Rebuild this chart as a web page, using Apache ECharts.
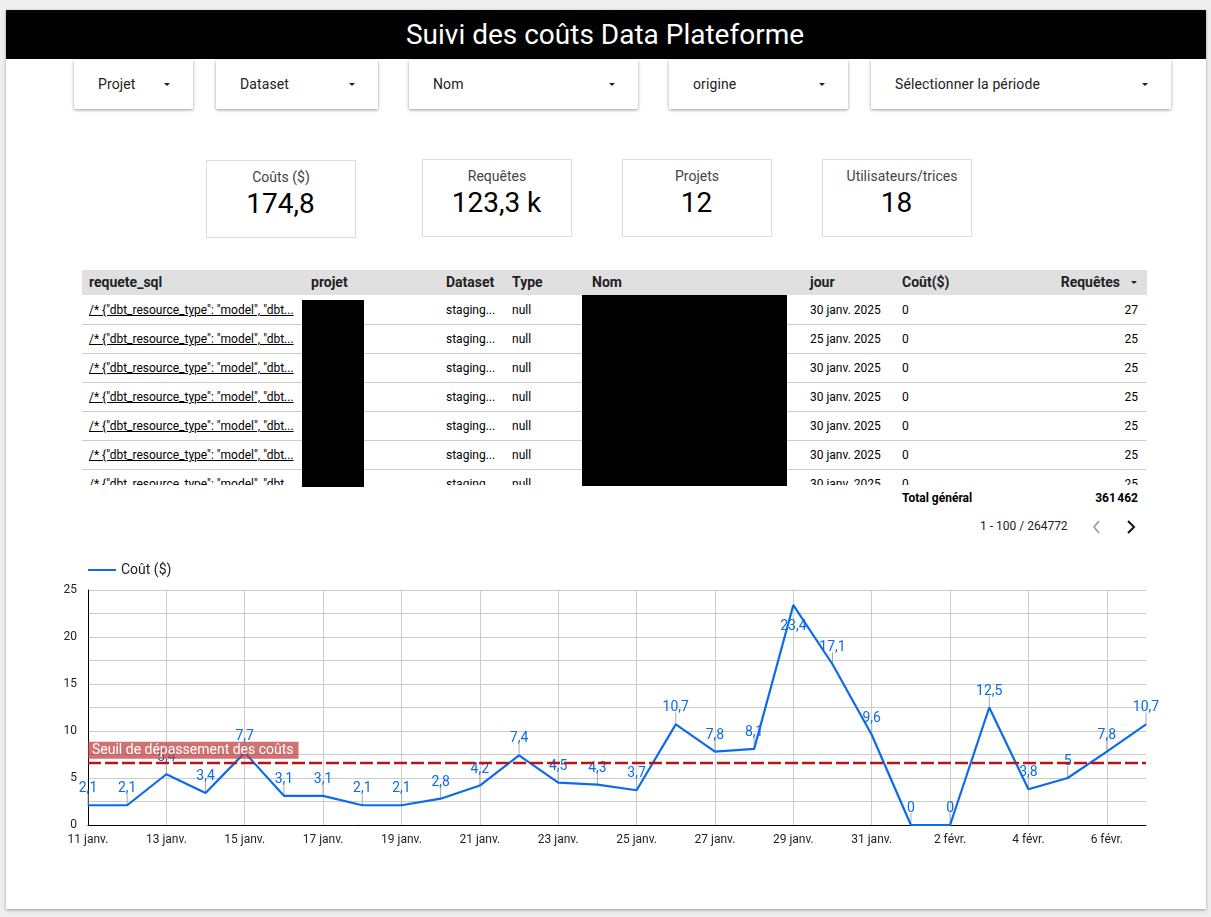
<!DOCTYPE html>
<html>
<head>
    <meta charset="utf-8">
    <title>Suivi des coûts Data Plateforme</title>
    <script src="https://cdn.jsdelivr.net/npm/echarts@6/dist/echarts.min.js"></script>
    <style>
        html, body { margin: 0; padding: 0; background: #eeeeee; font-family: Roboto, sans-serif; color: #000; overflow: hidden; }
        #page { position: absolute; left: 6px; top: 10px; width: 1200px; height: 899px; background: #fff; box-shadow: 0 1px 3px rgba(0,0,0,.35); }
        #root { position: absolute; left: 0; top: 0; width: 1211px; height: 917px; }
        #header { position: absolute; left: 6px; top: 10px; width: 1200px; height: 49px; line-height: 49px; box-sizing: border-box; padding-right: 2px; background: #000; color: #fff; font-size: 28px; text-align: center; }
        .filter { position: absolute; top: 60px; height: 49px; line-height: 49px; background: #fff; box-shadow: 0 1px 3px rgba(0,0,0,.4); font-size: 14px; letter-spacing: .12px; color: #222; box-sizing: border-box; padding-left: 24px; }
        .filter i { position: absolute; right: 23px; top: 23px; width: 0; height: 0; border: 3px solid transparent; border-top: 3px solid #222; border-bottom: 0; }
        .kpi { position: absolute; width: 150px; height: 78px; box-sizing: border-box; border: 1px solid #ddd; text-align: center; }
        .kpi .lab { margin-top: 8px; font-size: 14px; color: #444; line-height: 16px; }
        .kpi .val { font-size: 28px; line-height: 37px; margin-top: 0; padding-right: 1px; }
        #tableClip { position: absolute; left: 82px; top: 270px; width: 1065px; height: 215px; overflow: hidden; }
        .cell { position: absolute; white-space: nowrap; font-size: 12px; line-height: 14px; }
        .head { font-size: 14px; font-weight: 700; color: #222; }
        #headRow { position: absolute; left: 0; top: 0; width: 1065px; height: 25px; background: #e0e0e0; }
        .sep { position: absolute; left: 0; width: 1064px; height: 1px; background: #ccc; }
        .mask { position: absolute; background: #000; }
        #chart { position: absolute; left: 0; top: 550px; width: 1211px; height: 340px; }
    </style>
</head>
<body>
<div id="page"></div>
<div id="root">
    <div id="header">Suivi des coûts Data Plateforme</div>
    <div id="filters"></div>
    <div id="kpis"></div>
    <div id="tableClip"><div id="headRow"></div></div>
    <div class="mask" style="left:302px;top:300px;width:62px;height:187px"></div>
    <div class="mask" style="left:582px;top:295px;width:205px;height:191px"></div>
    <div class="cell" style="left:902px;top:491px;font-weight:700">Total général</div>
    <div class="cell" style="right:73px;top:491px;font-weight:700">361&#8239;462</div>
    <div class="cell" style="left:980px;top:519px;color:#222">1 - 100 / 264772</div>
    <svg style="position:absolute;left:1090px;top:519px" width="50" height="16">
        <path d="M9 2 L4 8 L9 14" fill="none" stroke="#999" stroke-width="1.6"/>
        <path d="M38 2 L44 8 L38 14" fill="none" stroke="#111" stroke-width="2"/>
    </svg>
    <div id="chart"></div>
</div>
<script type="text/javascript">
    // filtres
    var filterNames = ['Projet', 'Dataset', 'Nom', 'origine', 'Sélectionner la période'];
    var filterBoxes = [[74, 119], [216, 162], [409, 229], [669, 179], [871, 300]];

    // indicateurs
    var kpiLabels = ['Coûts ($)', 'Requêtes', 'Projets', 'Utilisateurs/trices'];
    var kpiValues = ['174,8', '123,3 k', '12', '18'];
    var kpiBoxes = [[206, 160], [422, 159], [622, 159], [822, 159]];

    // tableau
    var tableHeads = ['requete_sql', 'projet', 'Dataset', 'Type', 'Nom', 'jour', 'Coût($)'];
    var tableHeadX = [7, 229, 364, 430, 510, 728, 820];
    var sqlText = '/* {"dbt_resource_type": "model", "dbt...';
    var rowDays = ['30 janv. 2025', '25 janv. 2025', '30 janv. 2025', '30 janv. 2025', '30 janv. 2025', '30 janv. 2025', '30 janv. 2025'];
    var rowCosts = ['0', '0', '0', '0', '0', '0', '0'];
    var rowRequests = ['27', '25', '25', '25', '25', '25', '25'];

    // graphique
    var days = ['11 janv.', '12 janv.', '13 janv.', '14 janv.', '15 janv.', '16 janv.', '17 janv.', '18 janv.', '19 janv.', '20 janv.',
        '21 janv.', '22 janv.', '23 janv.', '24 janv.', '25 janv.', '26 janv.', '27 janv.', '28 janv.', '29 janv.', '30 janv.', '31 janv.',
        '1 févr.', '2 févr.', '3 févr.', '4 févr.', '5 févr.', '6 févr.', '7 févr.'];
    var costs = [2.1, 2.1, 5.4, 3.4, 7.7, 3.1, 3.1, 2.1, 2.1, 2.8, 4.2, 7.4, 4.5, 4.3, 3.7, 10.7, 7.8, 8.1, 23.4, 17.1, 9.6, 0, 0, 12.5, 3.8, 5, 7.8, 10.7];
    var threshold = 6.63;
    var blue = '#0a6cea';

    function addCell(parent, text, left, top, cls, extra) {
        var d = document.createElement('div');
        d.className = 'cell ' + (cls || '');
        d.style.left = left + 'px';
        d.style.top = top + 'px';
        d.textContent = text;
        if (extra) d.style.cssText += extra;
        parent.appendChild(d);
        return d;
    }

    filterNames.forEach(function (name, i) {
        var d = document.createElement('div');
        d.className = 'filter';
        d.style.left = filterBoxes[i][0] + 'px';
        d.style.width = filterBoxes[i][1] + 'px';
        d.innerHTML = name + '<i></i>';
        document.getElementById('filters').appendChild(d);
    });

    kpiLabels.forEach(function (label, i) {
        var d = document.createElement('div');
        d.className = 'kpi';
        d.style.left = kpiBoxes[i][0] + 'px';
        d.style.top = kpiBoxes[i][1] + 'px';
        d.innerHTML = '<div class="lab">' + label + '</div><div class="val">' + kpiValues[i] + '</div>';
        if (i === 3) d.querySelector('.lab').style.paddingLeft = '10px';
        document.getElementById('kpis').appendChild(d);
    });

    var clip = document.getElementById('tableClip');
    tableHeads.forEach(function (h, i) {
        addCell(clip, h, tableHeadX[i], 5, 'head');
    });
    addCell(clip, 'Requêtes', 0, 5, 'head', 'left:auto;right:27px');
    var arrow = document.createElement('div');
    arrow.style.cssText = 'position:absolute;right:10px;top:11px;border:3px solid transparent;border-top:3px solid #222;border-bottom:0';
    clip.appendChild(arrow);
    rowDays.forEach(function (day, i) {
        var y = 33 + i * 29;
        addCell(clip, sqlText, 7, y, '', 'text-decoration:underline');
        addCell(clip, 'staging...', 364, y);
        addCell(clip, 'null', 430, y);
        addCell(clip, day, 728, y);
        addCell(clip, rowCosts[i], 820, y);
        addCell(clip, rowRequests[i], 0, y, '', 'left:auto;right:9px');
        if (i < 6) {
            var s = document.createElement('div');
            s.className = 'sep';
            s.style.top = (54 + i * 29) + 'px';
            clip.appendChild(s);
        }
    });

    var chart = echarts.init(document.getElementById('chart'));
    chart.setOption({
        animation: false,
        textStyle: { fontFamily: 'Roboto' },
        legend: {
            data: [{ name: 'Coût ($)', icon: 'rect' }],
            left: 88, top: 13,
            padding: 0,
            itemWidth: 28, itemHeight: 2, itemGap: 5,
            textStyle: { fontSize: 14, color: '#222' }
        },
        grid: { left: 88, top: 40, width: 1058, height: 235 },
        xAxis: {
            type: 'category',
            boundaryGap: false,
            data: days,
            axisLine: { lineStyle: { color: '#000', width: 1 } },
            axisTick: { show: false },
            axisLabel: { interval: 1, color: '#222', fontSize: 12, margin: 9 },
            splitLine: { show: true, interval: 1, lineStyle: { color: '#ccc', width: 1 } }
        },
        yAxis: {
            type: 'value',
            min: 0, max: 25, interval: 5,
            axisLine: { show: true, lineStyle: { color: '#000', width: 1 } },
            axisTick: { show: false },
            axisLabel: { color: '#222', fontSize: 12, margin: 11, padding: [3, 0, 0, 0] },
            splitLine: { lineStyle: { color: '#ccc', width: 1 } },
            minorTick: { show: false, splitNumber: 2 },
            minorSplitLine: { show: true, lineStyle: { color: '#ccc', width: 1 } }
        },
        series: [
            {
                // petits traits entre le point et son étiquette
                type: 'custom',
                silent: true,
                clip: false,
                z: 3,
                data: costs.map(function (v, i) { return [i, v]; }),
                renderItem: function (params, api) {
                    var p = api.coord([api.value(0), api.value(1)]);
                    if (api.value(1) > 22) return null;
                    return {
                        type: 'line',
                        shape: { x1: p[0], y1: p[1], x2: p[0], y2: p[1] - 12 },
                        style: { stroke: '#aaa', lineWidth: 1 }
                    };
                }
            },
            {
                name: 'Coût ($)',
                type: 'line',
                data: costs.map(function (v) {
                    return v > 22 ? { value: v, label: { position: 'bottom', distance: 14 } } : v;
                }),
                showSymbol: true,
                showAllSymbol: true,
                symbol: 'circle',
                symbolSize: 1,
                clip: false,
                z: 4,
                color: blue,
                lineStyle: { color: blue, width: 2.2 },
                label: {
                    show: true,
                    position: 'top',
                    distance: 9,
                    fontSize: 14,
                    color: blue,
                    formatter: function (p) { return String(costs[p.dataIndex]).replace('.', ','); }
                },
                labelLayout: { hideOverlap: false }
            },
            {
                type: 'line',
                data: [],
                z: 5,
                markLine: {
                    silent: true,
                    symbol: 'none',
                    z: 6,
                    lineStyle: { color: '#b71414', type: [13, 4], width: 2.4 },
                    data: [{ yAxis: threshold }],
                    label: {
                        show: true,
                        position: 'insideStartTop',
                        distance: [0, 4],
                        formatter: 'Seuil de dépassement des coûts',
                        color: '#fff',
                        fontSize: 14,
                        backgroundColor: 'rgba(190,60,60,0.72)',
                        padding: [2, 5, 1, 4]
                    }
                }
            }
        ]
    });
</script>
</body>
</html>
